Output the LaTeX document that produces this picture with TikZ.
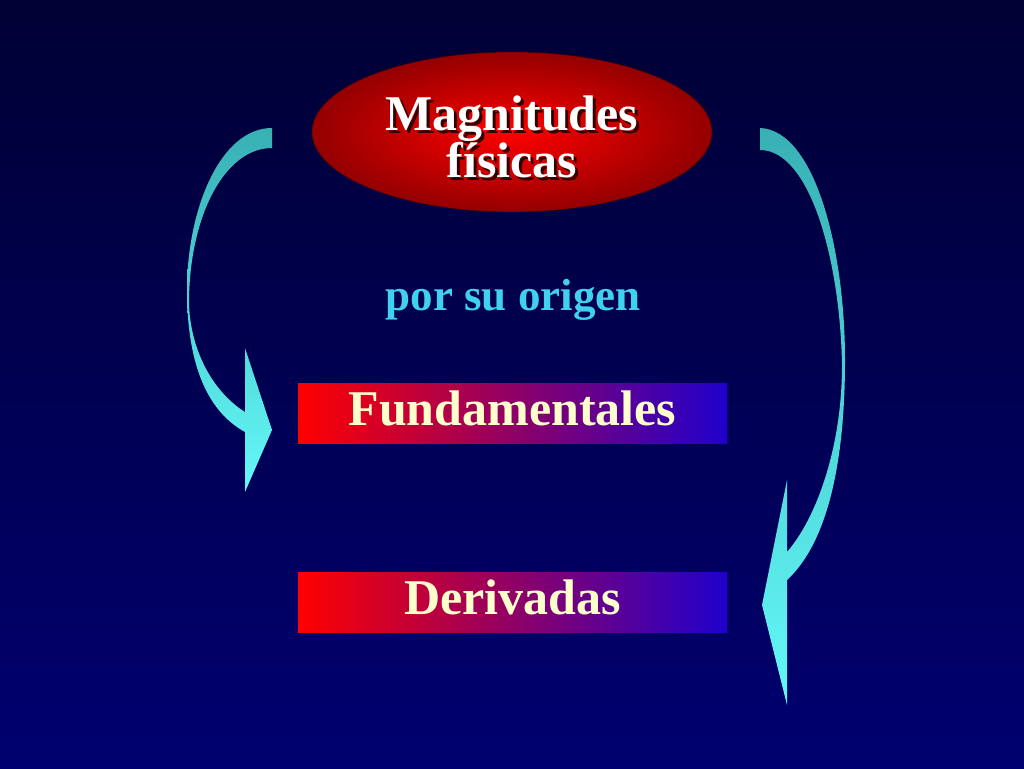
\documentclass[tikz,border=0pt]{standalone}
\usepackage{fontspec}
\setmainfont{Liberation Serif}
\usetikzlibrary{shapes.geometric}

\definecolor{bgtop}{RGB}{0,0,52}
\definecolor{bgbot}{RGB}{0,0,112}
\definecolor{cream}{RGB}{255,255,204}
\definecolor{skyline}{RGB}{64,208,240}
\definecolor{arrtop}{RGB}{56,176,180}
\definecolor{arrbot}{RGB}{100,248,248}
\definecolor{barblue}{RGB}{32,0,204}

\begin{document}
\begin{tikzpicture}[
  x=1pt, y=-1pt,
  big/.style={font=\fontsize{50}{47}\selectfont\bfseries},
  oval/.style={ellipse, minimum width=400pt, minimum height=160pt,
    inner color=red, outer color=red!58!black, draw=red!25!black},
  bar/.style={rectangle, big, minimum width=429pt, minimum height=60pt,
    text height=35pt, text depth=11pt, left color=red, right color=barblue, text=cream},
  bentarrow/.style={top color=arrtop, bottom color=arrbot},
]

\shade[top color=bgtop, bottom color=bgbot] (0,0) rectangle (1024,768);
\useasboundingbox (0,0) rectangle (1024,768);

\node (mag) [oval] at (512,132) {};
\node (magshadow) [big, align=center, text=black!80!red] at ([shift={(3,8)}]mag.center) {Magnitudes\\físicas};
\node (magtext) [big, align=center, text=white] at ([shift={(0,5)}]mag.center) {Magnitudes\\físicas};

\node (origen) [font=\fontsize{45}{50}\selectfont\bfseries, text=skyline, anchor=base] at (513,310) {por su origen};

\node (fund) [bar] at (512.5,413.5) {Fundamentales};
\node (der) [bar] at (512.5,602) {Derivadas};

% curved arrows
\shade[bentarrow]
  (272,128) .. controls (220,128) and (187,210) .. (187,290)
  .. controls (187,360) and (205,410) .. (245,432)
  -- (245,492) -- (272,430) -- (245,348) -- (245,412)
  .. controls (210,390) and (189,345) .. (189,300)
  .. controls (190,215) and (225,148) .. (272,148) -- cycle;
\shade[bentarrow]
  (760,128) .. controls (815,130) and (845,250) .. (845,360)
  .. controls (845,470) and (825,545) .. (787,580)
  -- (787,705) -- (762,605) -- (787,480) -- (787,552)
  .. controls (815,520) and (842,450) .. (842,365)
  .. controls (840,260) and (810,150) .. (760,150) -- cycle;

\end{tikzpicture}
\end{document}
